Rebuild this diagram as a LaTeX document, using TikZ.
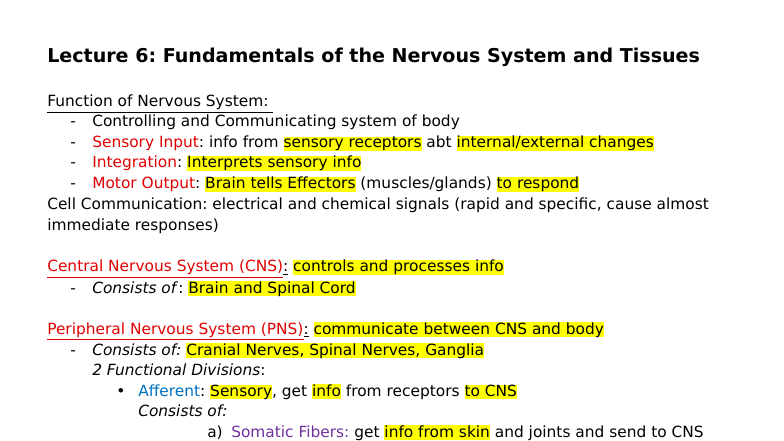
\documentclass[tikz,border=0pt]{standalone}
\usepackage{fontspec}
\setmainfont{DejaVu Sans}
\frenchspacing
\definecolor{hlc}{HTML}{FFFF00}
\definecolor{rd}{HTML}{E00000}
\definecolor{bl}{HTML}{0070C0}
\definecolor{pu}{HTML}{7030A0}
\newcommand\hl[1]{{\setlength{\fboxsep}{0pt}\colorbox{hlc}{\vphantom{Ag}#1}}}
\begin{document}
\begin{tikzpicture}[x=0.75pt,y=-0.75pt,
  ln/.style={anchor=base west,inner sep=0,font=\fontsize{11.55}{13}\selectfont}]
\useasboundingbox (0,0) rectangle (784,441);
\node[ln,font=\fontsize{14.3}{16}\selectfont\bfseries] (t) at (47,63) {Lecture 6: Fundamentals of the Nervous System and Tissues};
\node[ln] (l1) at (47,107) {\underline{Function of Nervous System: }};
\node[ln] (d2) at (70,127) {-};
\node[ln] (l2) at (92,127) {Controlling and Communicating system of body};
\node[ln] (d3) at (70,148) {-};
\node[ln] (l3) at (92,148) {\textcolor{rd}{Sensory Input}: info from \hl{sensory receptors} abt \hl{internal/external changes}};
\node[ln] (d4) at (70,168) {-};
\node[ln] (l4) at (92,168) {\textcolor{rd}{Integration}: \hl{Interprets sensory info}};
\node[ln] (d5) at (70,189) {-};
\node[ln] (l5) at (92,189) {\textcolor{rd}{Motor Output}: \hl{Brain tells Effectors} (muscles/glands) \hl{to respond}};
\node[ln] (l6) at (47,210) {Cell Communication: electrical and chemical signals (rapid and specific, cause almost};
\node[ln] (l7) at (47,231) {immediate responses)};
\node[ln] (l8) at (47,272) {\textcolor{rd}{\underline{Central Nervous System (CNS)}}\underline{:} \hl{controls and processes info}};
\node[ln] (d9) at (70,293) {-};
\node[ln] (l9) at (92,293) {\textit{Consists of}: \hl{Brain and Spinal Cord}};
\node[ln] (l10) at (47,334) {\textcolor{rd}{\underline{Peripheral Nervous System (PNS)}}\underline{:} \hl{communicate between CNS and body}};
\node[ln] (d11) at (70,355) {-};
\node[ln] (l11) at (92,355) {\textit{Consists of:} \hl{Cranial Nerves, Spinal Nerves, Ganglia}};
\node[ln] (l12) at (92,375) {\textit{2 Functional Divisions}:};
\node[ln] (b13) at (116,396) {•};
\node[ln] (l13) at (138,396) {\textcolor{bl}{Afferent}: \hl{Sensory}, get \hl{info} from receptors \hl{to CNS}};
\node[ln] (l14) at (138,416) {\textit{Consists of:}};
\node[ln] (a15) at (207,437) {a)};
\node[ln] (l15) at (231,437) {\textcolor{pu}{Somatic Fibers:} get \hl{info from skin} and joints and send to CNS};
\end{tikzpicture}
\end{document}
